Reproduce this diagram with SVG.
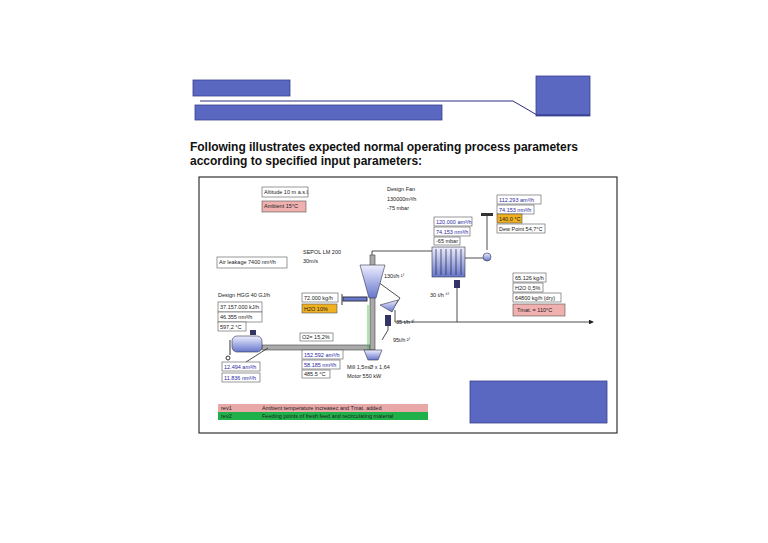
<svg xmlns="http://www.w3.org/2000/svg" width="768" height="543" viewBox="0 0 768 543">
<style>
.t{font-family:"Liberation Sans",Arial,sans-serif;font-size:5.5px;fill:#222}
.b{fill:#2a2aa0}
.bx{fill:#fff;stroke:#555;stroke-width:0.6}
.blk{fill:#5b68c2;stroke:#3a3f90;stroke-width:0.8}
.pipe{fill:#aaa;stroke:#444;stroke-width:0.6}
.ln{stroke:#222;stroke-width:0.8;fill:none}
</style>
<defs><marker id="ar" markerWidth="6" markerHeight="6" refX="5" refY="3" orient="auto"><path d="M0,0L6,3L0,6z" fill="#222"/></marker>
<linearGradient id="eq" x1="0" x2="0" y1="0" y2="1"><stop offset="0" stop-color="#eef"/><stop offset="1" stop-color="#6677cc"/></linearGradient></defs>
<rect width="768" height="543" fill="#fff"/>
<g id="header">
<rect class="blk" x="193" y="80" width="97" height="16"/>
<rect class="blk" x="195" y="105" width="247" height="15"/>
<rect class="blk" x="536" y="76" width="54" height="40"/>
<path d="M200,101H513L537,115H590" fill="none" stroke="#2a2f80" stroke-width="1"/>
</g>
<g id="title" font-family="Liberation Sans,Arial,sans-serif" font-weight="bold" font-size="12" fill="#111">
<text x="190" y="151" textLength="388" lengthAdjust="spacing">Following illustrates expected normal operating process parameters</text>
<text x="190" y="165">according to specified input parameters:</text>
</g>
<rect x="199" y="177" width="418" height="256" fill="#fff" stroke="#333" stroke-width="1.2"/>
<g id="connectors">
<rect class="pipe" x="262" y="345" width="108" height="5"/>
<rect class="pipe" x="370" y="255" width="5" height="95"/>
<path d="M372,255V251H432" class="ln" stroke-width="2"/>
<path d="M465,258H485" class="ln" stroke-width="2"/>
<path d="M487,250V215" class="ln" stroke-width="3"/>
<rect x="481" y="213" width="12" height="3" fill="#333"/>
<path d="M378,282L400,298L392,310" class="ln" stroke-width="2"/>
<path d="M382,340L388,330V318" class="ln" stroke-width="2"/>
<line x1="368" y1="305" x2="368" y2="350" stroke="#2c2" stroke-width="0.8"/>
<line x1="457" y1="280" x2="457" y2="322" class="ln"/>
<path d="M395,310V322H593" class="ln" marker-end="url(#ar)"/>
<path d="M246,362L268,348" class="ln" stroke-width="2"/>
<rect x="343" y="297" width="24" height="4" fill="#6677cc" stroke="#334"/>
<line x1="342" y1="294" x2="342" y2="305" stroke="#333"/>
</g>
<g id="equipment">
<path d="M360,265H385L376,298H369z" fill="url(#eq)" stroke="#334" stroke-width="0.6"/>
<path d="M380,305L398,300L392,312z" fill="url(#eq)" stroke="#334" stroke-width="0.6"/>
<rect x="385" y="315" width="6" height="11" fill="#336" />
<path d="M364,350H382L378,360H368z" fill="url(#eq)" stroke="#334" stroke-width="0.6"/>
<rect x="432" y="247" width="33" height="30" fill="url(#eq)" stroke="#334" stroke-width="0.6"/>
<path d="M436,249V275M441,249V275M446,249V275M451,249V275M456,249V275M461,249V275" stroke="#223" stroke-width="0.7"/>
<circle cx="487" cy="257" r="4" fill="url(#eq)" stroke="#334" stroke-width="0.6"/>
<rect x="454" y="280" width="6" height="8" fill="#336"/>
<rect x="232" y="336" width="30" height="16" rx="5" fill="url(#eq)" stroke="#334" stroke-width="0.6"/>
<line x1="230" y1="340" x2="230" y2="355" stroke="#333"/>
<circle cx="228" cy="358" r="2" fill="#fff" stroke="#333"/>
<rect x="250" y="330" width="6" height="5" fill="#336"/>
</g>
<g id="labels" class="t">
<rect class="bx" x="262" y="187" width="46" height="10"/><text class="t" x="264" y="194">Altitude  10 m a.s.l.</text>
<rect x="262" y="201" width="44" height="11" fill="#f0b0b0" stroke="#555" stroke-width="0.6"/><text class="t" x="264" y="208">Ambient  15°C</text>
<text class="t" x="387" y="191">Design Fan</text><text class="t" x="387" y="201">130000m³/h</text><text class="t" x="387" y="210">-75 mbar</text>
<text class="t" x="303" y="254">SEPOL LM 200</text><text class="t" x="303" y="263">30m/s</text>
<rect class="bx" x="217" y="257" width="70" height="11"/><text class="t" x="219" y="264">Air leakage 7400 nm³/h</text>
<text class="t" x="218" y="297">Design HGG 40 GJ/h</text>
<rect class="bx" x="218" y="302" width="44" height="10"/><text class="t" x="220" y="309">37.157.000 kJ/h</text>
<rect class="bx" x="218" y="312" width="44" height="10"/><text class="t" x="220" y="319">46.355 nm³/h</text>
<rect class="bx" x="218" y="322" width="28" height="9"/><text class="t" x="220" y="329">597,2 °C</text>
<rect class="bx" x="302" y="293" width="36" height="9"/><text class="t" x="304" y="300">72.000 kg/h</text>
<rect x="302" y="304" width="35" height="9" fill="#f0b020" stroke="#555" stroke-width="0.6"/><text class="t" x="304" y="311">H2O 10%</text>
<rect class="bx" x="300" y="333" width="33" height="8"/><text class="t" x="302" y="339" fill="#c22">O2= 15,2%</text>
<rect class="bx" x="302" y="350" width="41" height="9"/><text class="t b" x="304" y="357">152.592 am³/h</text>
<rect class="bx" x="302" y="360" width="38" height="9"/><text class="t b" x="304" y="367">58.185 nm³/h</text>
<rect class="bx" x="302" y="370" width="28" height="8"/><text class="t" x="304" y="376">485.5 °C</text>
<text class="t" x="347" y="369">Mill 1,5mØ x 1,64</text><text class="t" x="347" y="378">Motor 550 kW</text>
<rect class="bx" x="222" y="362" width="38" height="9"/><text class="t b" x="224" y="369">12.494 am³/h</text>
<rect class="bx" x="222" y="373" width="38" height="9"/><text class="t b" x="224" y="380">11.836 nm³/h</text>
<text class="t" x="384" y="278">130t/h ¹⁾</text>
<text class="t" x="430" y="297">30 t/h ⁴⁾</text>
<text class="t" x="396" y="324">35 t/h ³⁾</text>
<text class="t" x="393" y="342">95t/h ²⁾</text>
<rect class="bx" x="434" y="217" width="38" height="9"/><text class="t b" x="436" y="224">120.000 am³/h</text>
<rect class="bx" x="434" y="227" width="36" height="9"/><text class="t b" x="436" y="234">74.153 nm³/h</text>
<rect class="bx" x="434" y="237" width="26" height="8"/><text class="t" x="436" y="243">-65 mbar</text>
<rect class="bx" x="497" y="195" width="44" height="9"/><text class="t b" x="499" y="202">112.293 am³/h</text>
<rect class="bx" x="497" y="205" width="37" height="9"/><text class="t b" x="499" y="212">74.153 nm³/h</text>
<rect x="497" y="214" width="25" height="9" fill="#f0b020" stroke="#555" stroke-width="0.6"/><text class="t" x="499" y="221">140.0 °C</text>
<rect class="bx" x="497" y="224" width="48" height="9"/><text class="t" x="499" y="231">Dew Point  54,7°C</text>
<rect class="bx" x="513" y="273" width="33" height="9"/><text class="t" x="515" y="280">65.126 kg/h</text>
<rect class="bx" x="513" y="283" width="30" height="9"/><text class="t" x="515" y="290">H2O 0,5%</text>
<rect class="bx" x="513" y="293" width="48" height="9"/><text class="t" x="515" y="300">64800 kg/h (dry)</text>
<rect x="513" y="304" width="52" height="12" fill="#f0b0b0" stroke="#555" stroke-width="0.6"/><text class="t" x="517" y="312">Tmat. = 110°C</text>
</g>
<g id="legend">
<rect x="218" y="404" width="210" height="8" fill="#e8a8a8"/>
<rect x="218" y="412" width="210" height="8" fill="#1fb04a"/>
<text class="t" x="221" y="410">rev1</text><text class="t" x="262" y="410">Ambient temperature increasec and Tmat. added</text>
<text class="t" x="221" y="418">rev2</text><text class="t" x="262" y="418">Feeding points of fresh feed and recirculating material</text>
<rect class="blk" x="470" y="381" width="137" height="42"/>
</g>
</svg>
